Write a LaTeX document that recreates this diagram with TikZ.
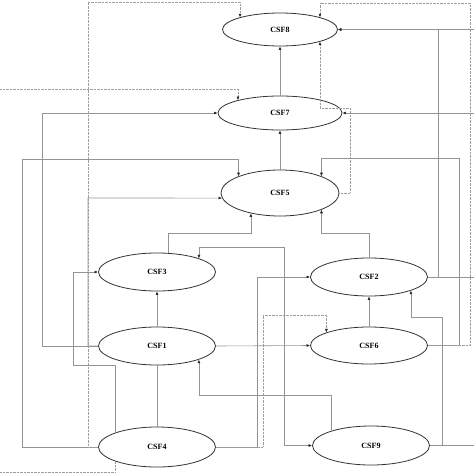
\documentclass[tikz,border=0pt]{standalone}
\usepackage{fontspec}
\setmainfont{Liberation Serif}
\usepackage{tikz}
\usetikzlibrary{calc}
\usetikzlibrary{arrows.meta}
\usetikzlibrary{shapes.geometric}

\begin{document}
\begin{tikzpicture}[x=1pt,y=-1pt]

    \tikzstyle{factor}=[ellipse,draw=black!80,line width=0.8pt,fill=white,inner sep=0pt,minimum width=117pt,minimum height=38pt,font=\fontsize{8}{9}\selectfont\bfseries]
    \tikzstyle{link}=[-{Latex[length=3.5pt,width=3pt,color=black!85]},line width=0.6pt,color=black!42]
    \tikzstyle{both link}=[{Latex[length=3.5pt,width=3pt,color=black!85]}-{Latex[length=3.5pt,width=3pt,color=black!85]},line width=0.6pt,color=black!42]
    \tikzstyle{plain link}=[line width=0.6pt,color=black!42]
    \tikzstyle{dotted link}=[link,color=black!38,dash pattern=on 0.7pt off 0.7pt]
    \tikzstyle{dotted plain}=[plain link,color=black!38,dash pattern=on 0.7pt off 0.7pt]

    \useasboundingbox (0,0) rectangle (474,474);

    % Factors
    \node[factor,minimum width=115pt,minimum height=33pt] (CSF8) at (280,29.5) {CSF8};
    \node[factor,minimum width=124pt,minimum height=34pt] (CSF7) at (280,113) {CSF7};
    \node[factor,minimum width=118pt,minimum height=46pt] (CSF5) at (280,193) {CSF5};
    \node[factor] (CSF3) at (157,272) {CSF3};
    \node[factor] (CSF2) at (369,277) {CSF2};
    \node[factor] (CSF1) at (157,346) {CSF1};
    \node[factor,minimum height=37pt] (CSF6) at (369,345.5) {CSF6};
    \node[factor,minimum height=40pt] (CSF4) at (157,447) {CSF4};
    \node[factor,minimum height=39pt] (CSF9) at (371,445.5) {CSF9};

    % Ends cut off by the frame
    \coordinate (west top) at (0,89);
    \coordinate (west bottom) at (0,472);
    \coordinate (east 8) at (474,29.5);
    \coordinate (east 7) at (474,113);
    \coordinate (east 2) at (474,277);
    \coordinate (east 9) at (474,445.5);

    % Straight links
    \draw[style=link] (CSF7) -- (CSF8);
    \draw[style=link] (CSF5) -- (CSF7);
    \draw[style=link] (CSF1) -- (CSF3);
    \draw[style=plain link] (CSF4) -- (CSF1);
    \draw[style=link] (CSF6) -- (CSF2);
    \draw[style=link] (CSF1.east) -- (CSF6.west);

    % From CSF1
    \draw[style=link] (CSF1.west) -| (42,113) -- (CSF7.west);
    \draw[style=link] (CSF1.west) -| (88,198) -- (CSF5.185);

    % From CSF4
    \draw[style=link] (CSF4.west) -| (22,159) -| (CSF5.158);
    \draw[style=dotted link] (CSF4.west) -| (88,2) -| (CSF8.163);
    \draw[style=link] (CSF4.161) |- (73,365) |- (CSF3.west);
    \draw[style=link] (CSF4.east) -| (257,277) -- (CSF2.west);
    \draw[style=dotted link] (CSF4.east) -| (263,315) -| (CSF6.163);
    \draw[style=dotted plain] (west bottom) -| (CSF4.-161);

    % From CSF3 and CSF2
    \draw[style=link] (CSF3.60) -- ++(0,-20) -| (CSF5.-145);
    \draw[style=link] (CSF2.north) -- ++(0,-24) -| (CSF5.-22);
    \draw[style=link] (CSF2.east) -| (438,29.5) -- (CSF8.east);
    \draw[style=plain link] (CSF2.east) -- (east 2);

    % From CSF5 and CSF6
    \draw[style=dotted link] (CSF5.east) -| (350,108) -| (CSF8.-17);
    \draw[style=link] (CSF6.east) -| (459,158) -| (CSF5.22);
    \draw[style=dotted link] (CSF6.east) -| (470,3) -| (CSF8.17);

    % From CSF9
    \draw[style=link] (CSF9.160) -- ++(0,-36) -| (CSF1.-18);
    \draw[style=both link] (CSF9.west) -| (284,247) -| (CSF3.18);
    \draw[style=link] (CSF9.east) -| (442,317) -| (CSF2.-18);
    \draw[style=plain link] (CSF9.east) -- (east 9);

    % From outside the frame
    \draw[style=dotted link] (west top) -| (CSF7.163);
    \draw[style=link] (east 7) -- (CSF7.east);
    \draw[style=link] (east 8) -- (CSF8.east);

\end{tikzpicture}
\end{document}
